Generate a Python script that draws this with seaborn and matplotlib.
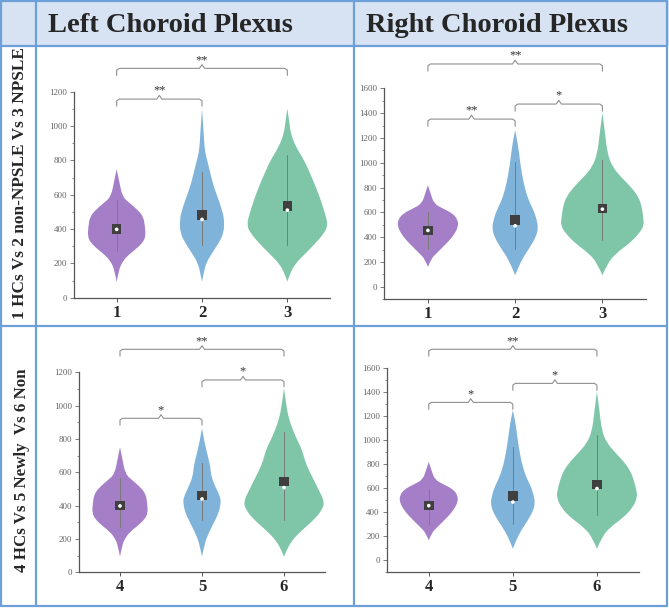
import numpy as np
import pandas as pd
import matplotlib.pyplot as plt
from matplotlib.patches import Rectangle, PathPatch
from matplotlib.path import Path
from matplotlib.lines import Line2D
from matplotlib.ticker import MultipleLocator
import seaborn as sns

# ---- data ----
col_titles = ['Left Choroid Plexus', 'Right Choroid Plexus']
row_titles = ['1 HCs Vs 2 non-NPSLE Vs 3 NPSLE', '4 HCs Vs 5 Newly  Vs 6 Non']
row_groups = [['1', '2', '3'], ['4', '5', '6']]

# violin outlines: value levels and half widths (category units)
tl_levels = [
    [93, 162, 201, 240, 279, 318, 356, 414, 472, 511, 550, 588, 686, 748],
    [93, 142, 201, 259, 318, 375, 453, 511, 570, 648, 725, 803, 861, 958, 1103],
    [93, 142, 201, 259, 318, 375, 424, 492, 570, 648, 725, 803, 880, 958, 1035, 1103],
]
tl_widths = [
    [0, .027, .059, .117, .215, .301, .340, .332, .313, .246, .156, .066, .027, 0],
    [0, .020, .047, .117, .195, .254, .262, .234, .195, .137, .098, .059, .031, .020, 0],
    [0, .031, .098, .215, .332, .430, .477, .441, .391, .332, .266, .195, .098, .039, .020, 0],
]
tr_levels = [
    [161, 228, 268, 322, 376, 429, 483, 537, 591, 631, 671, 752, 820],
    [94, 161, 242, 322, 403, 470, 538, 618, 699, 806, 914, 1022, 1156, 1264],
    [94, 188, 269, 349, 430, 497, 564, 645, 726, 806, 887, 968, 1076, 1237, 1403],
]
tr_widths = [
    [0, .038, .096, .172, .249, .307, .345, .345, .287, .172, .069, .031, 0],
    [0, .038, .096, .172, .238, .264, .249, .211, .153, .107, .077, .054, .031, 0],
    [0, .057, .153, .307, .421, .479, .467, .452, .414, .326, .211, .115, .057, .031, 0],
]
bl_levels = [
    [94, 162, 201, 240, 279, 318, 356, 414, 472, 511, 550, 588, 686, 750],
    [94, 174, 234, 294, 354, 414, 454, 514, 574, 634, 694, 774, 864],
    [94, 134, 194, 254, 314, 374, 424, 494, 574, 654, 734, 814, 914, 1014, 1104],
]
bl_widths = [
    [0, .027, .059, .117, .215, .301, .340, .332, .313, .246, .156, .066, .027, 0],
    [0, .032, .081, .141, .202, .230, .222, .162, .113, .101, .073, .032, 0],
    [0, .032, .101, .222, .364, .465, .493, .424, .343, .263, .222, .141, .061, .024, 0],
]
br_levels = [
    [162, 228, 268, 322, 376, 429, 483, 537, 591, 631, 671, 752, 818],
    [92, 161, 242, 322, 403, 470, 538, 618, 699, 806, 914, 1022, 1150, 1251],
    [92, 188, 269, 349, 430, 524, 590, 660, 740, 820, 900, 980, 1080, 1240, 1406],
]
br_widths = [
    [0, .038, .096, .172, .249, .307, .345, .345, .287, .172, .069, .031, 0],
    [0, .038, .096, .172, .238, .264, .249, .211, .153, .107, .077, .054, .031, 0],
    [0, .057, .153, .307, .421, .482, .467, .440, .400, .320, .211, .115, .057, .031, 0],
]

# whisker low / high, mean, median
tl_low, tl_high = [270, 308, 308], [570, 735, 832]
tl_mean, tl_median = [402, 481, 533], [398, 456, 510]
tr_low, tr_high = [309, 309, 376], [604, 1009, 1022]
tr_mean, tr_median = [455, 538, 632], [455, 492, 626]
bl_low, bl_high = [274, 314, 314], [564, 654, 844]
bl_mean, bl_median = [400, 460, 544], [398, 440, 508]
br_low, br_high = [300, 302, 371], [590, 944, 1041]
br_mean, br_median = [452, 533, 628], [452, 482, 595]

# significance brackets: (from, to, height, label)
tl_sig = [(0, 2, 1336, '**'), (0, 1, 1157, '**')]
tr_sig = [(0, 2, 1796, '**'), (0, 1, 1352, '**'), (1, 2, 1473, '*')]
bl_sig = [(0, 2, 1338, '**'), (0, 1, 924, '*'), (1, 2, 1154, '*')]
br_sig = [(0, 2, 1759, '**'), (0, 1, 1315, '*'), (1, 2, 1474, '*')]

colors = ['#a47ec7', '#7fb3d9', '#7fc6a9']

sns.set_style("ticks")
plt.rcParams['font.family'] = ['Liberation Serif', 'DejaVu Serif']

W, H = 669, 608
fig = plt.figure(figsize=(W / 100, H / 100), dpi=100)


def fx(px):
    return px / W


def fy(py):
    return 1 - py / H


def mid(a, b):
    return ((a[0] + b[0]) / 2, (a[1] + b[1]) / 2)


def violin_patch(k, levels, widths, color):
    # outline through the tips, sides drawn as quadratic curves between midpoints
    right = [(k + w, y) for y, w in zip(levels[1:-1], widths[1:-1])]
    left = [(k - w, y) for y, w in zip(levels[1:-1], widths[1:-1])][::-1]
    bottom = (k, levels[0])
    top = (k, levels[-1])
    verts, codes = [bottom], [Path.MOVETO]
    for side, end in [(right, top), (left, bottom)]:
        for i, c in enumerate(side):
            nxt = mid(c, side[i + 1]) if i + 1 < len(side) else end
            verts += [c, nxt]
            codes += [Path.CURVE3, Path.CURVE3]
    return PathPatch(Path(verts, codes), facecolor=color, edgecolor='none', zorder=2)


# table frame
grid_col = '#6d9fd9'
fig.patches.append(Rectangle((0, fy(46)), 1, 46 / H, transform=fig.transFigure,
                             facecolor='#d7e3f3', edgecolor='none', zorder=0))
for xp in [1, 36, 354, 667]:
    fig.add_artist(Line2D([fx(xp), fx(xp)], [fy(1), fy(606)], color=grid_col, lw=1.6))
for yp in [1, 46, 326, 606]:
    fig.add_artist(Line2D([fx(1), fx(667)], [fy(yp), fy(yp)], color=grid_col, lw=1.6))

fig.text(fx(48), fy(25), col_titles[0], fontsize=20.5, fontweight='bold', va='center', ha='left')
fig.text(fx(366), fy(25), col_titles[1], fontsize=20.5, fontweight='bold', va='center', ha='left')
fig.text(fx(20), fy(183), row_titles[0], fontsize=12.4, fontweight='bold', rotation=90,
         va='center', ha='center')
fig.text(fx(22), fy(470), row_titles[1], fontsize=12.2, fontweight='bold', rotation=90,
         va='center', ha='center')

panels = [
    dict(rect=[fx(74), fy(297.7), fx(330) - fx(74), (297.7 - 91.7) / H], ylim=(0, 1200),
         levels=tl_levels, widths=tl_widths, low=tl_low, high=tl_high,
         mean=tl_mean, median=tl_median, sig=tl_sig, row=0),
    dict(rect=[fx(384.3), fy(299.3), fx(646) - fx(384.3), (299.3 - 88.3) / H], ylim=(-100, 1600),
         levels=tr_levels, widths=tr_widths, low=tr_low, high=tr_high,
         mean=tr_mean, median=tr_median, sig=tr_sig, row=0),
    dict(rect=[fx(79), fy(572.3), fx(325) - fx(79), (572.3 - 372.3) / H], ylim=(0, 1200),
         levels=bl_levels, widths=bl_widths, low=bl_low, high=bl_high,
         mean=bl_mean, median=bl_median, sig=bl_sig, row=1),
    dict(rect=[fx(386.7), fy(571.7), fx(639) - fx(386.7), (571.7 - 368.3) / H], ylim=(-100, 1600),
         levels=br_levels, widths=br_widths, low=br_low, high=br_high,
         mean=br_mean, median=br_median, sig=br_sig, row=1),
]

for p in panels:
    ax = fig.add_axes(p['rect'])
    ax.set_facecolor('none')
    span = p['ylim'][1] - p['ylim'][0]
    for k in range(3):
        ax.add_patch(violin_patch(k, p['levels'][k], p['widths'][k], colors[k]))
        ax.plot([k, k], [p['low'][k], p['high'][k]], color='#7a7a7a', lw=0.7, zorder=3)
    pos = np.arange(3)
    sns.scatterplot(x=pos, y=p['mean'], marker='s', s=48, color='#3f3f3f',
                    edgecolor='none', ax=ax, legend=False, zorder=4)
    sns.scatterplot(x=pos, y=p['median'], marker='o', s=7, color='white',
                    edgecolor='none', ax=ax, legend=False, zorder=5)

    # brackets
    for i, j, yb, lab in p['sig']:
        d = 0.034 * span
        n = 0.018 * span
        m = (i + j) / 2
        xs = [i, i, i + 0.03, m - 0.03, m, m + 0.03, j - 0.03, j, j]
        ys = [yb - d, yb - d * 0.25, yb, yb, yb + n, yb, yb, yb - d * 0.25, yb - d]
        ax.plot(xs, ys, color='#8f8f8f', lw=0.8, clip_on=False, zorder=3)
        ax.text(m, yb + 0.012 * span, lab, ha='center', va='bottom', fontsize=9,
                color='#333333', clip_on=False)

    ax.set_xlim(-0.5, 2.5)
    ax.set_ylim(*p['ylim'])
    ax.set_xticks(pos)
    ax.set_xticklabels(row_groups[p['row']], fontsize=12, fontweight='bold')
    ax.yaxis.set_major_locator(MultipleLocator(200))
    ax.yaxis.set_minor_locator(MultipleLocator(100))
    ax.tick_params(axis='y', which='major', labelsize=6.5, labelcolor='#666666',
                   color='#666666', length=3, width=0.6, pad=2)
    ax.tick_params(axis='y', which='minor', color='#666666', length=1.8, width=0.5)
    ax.tick_params(axis='x', color='#555555', length=3, width=0.7, pad=2)
    sns.despine(ax=ax)
    for s in ['left', 'bottom']:
        ax.spines[s].set_color('#555555')
        ax.spines[s].set_linewidth(0.9)

fig.savefig('out.png', dpi=100)
